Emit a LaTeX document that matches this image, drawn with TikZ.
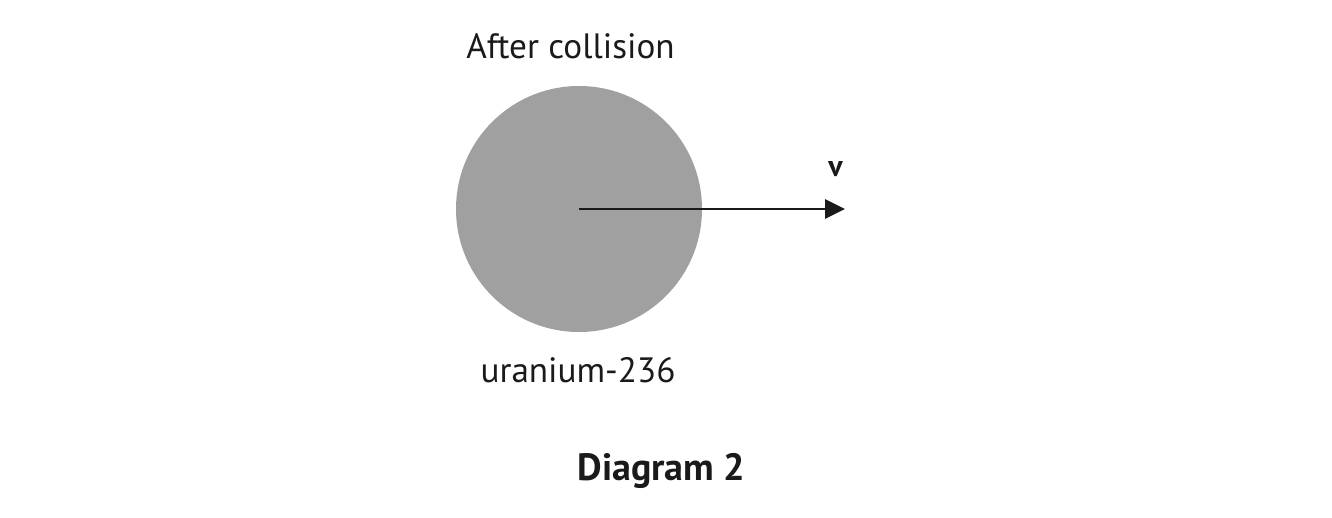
\documentclass[tikz,border=0pt]{standalone}
\usepackage{fontspec}
\setmainfont{PT Sans}
\usetikzlibrary{arrows.meta}
\definecolor{nucgray}{RGB}{160,160,160}
\definecolor{inkdark}{RGB}{26,26,26}
\begin{document}
\begin{tikzpicture}[x=0.5pt,y=-0.5pt]
        \tikzstyle{nucleus} = [circle, minimum size=123pt, inner sep=0pt, fill=nucgray]
        \tikzstyle{lbl} = [anchor=base, inner sep=0pt, text=inkdark, font=\fontsize{17.6}{21}\selectfont]
        \tikzstyle{arrow} = [line width=1.35pt, draw=inkdark, -{Triangle[length=10pt,width=9.5pt]}]
        \useasboundingbox (0,0) rectangle (1332,518);
        \node (u) [nucleus] at (579, 209) {};
        \coordinate (tip) at (845, 209);
        \node (after) [lbl] at (570.5, 59) {After collision};
        \node (name) [lbl] at (578, 382) {uranium-236};
        \node (v) [lbl, font=\fontsize{15}{18}\selectfont\bfseries] at (835.5, 177) {v};
        \node (cap) [lbl, font=\fontsize{19}{22}\selectfont\bfseries] at (661.5, 480) {Diagram 2};
        \draw[arrow] (u.center) to (tip);
    \end{tikzpicture}
\end{document}
